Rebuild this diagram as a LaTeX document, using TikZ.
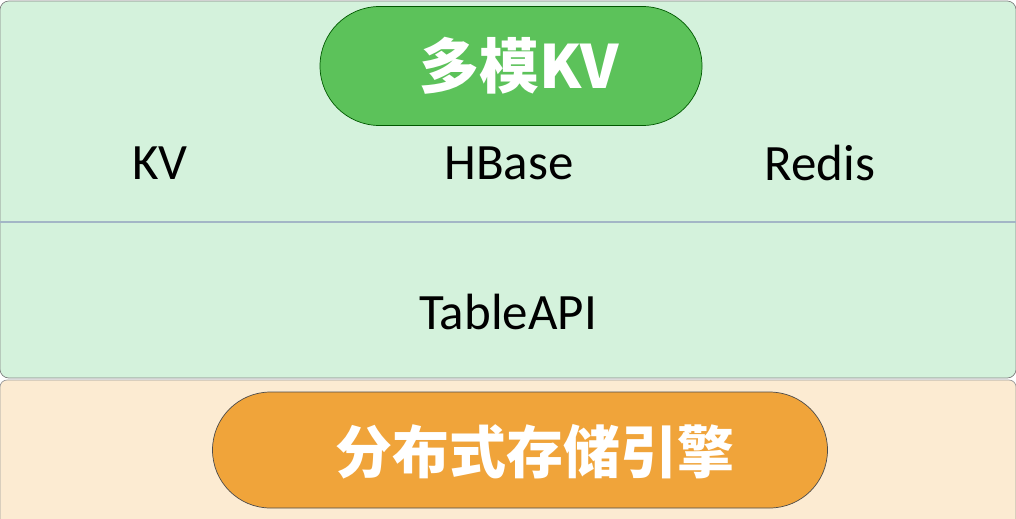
\documentclass[tikz,border=0pt]{standalone}
\usepackage{fontspec}
\setmainfont{Carlito}
\newfontfamily\cjk{Noto Sans CJK SC}
\usetikzlibrary{shapes.misc}
\definecolor{layergreen}{HTML}{D4F2DC}
\definecolor{pillgreen}{HTML}{5CC25A}
\definecolor{layerorange}{HTML}{FCEBD2}
\definecolor{pillorange}{HTML}{F0A43A}
\definecolor{dividerblue}{HTML}{A3B6C6}
\begin{document}
\begin{tikzpicture}[x=0.02cm, y=-0.02cm, inner sep=0mm,
		pillstyle/.style={rounded rectangle, draw, thin},
		titlestyle/.style={text=white, font=\cjk\bfseries\fontsize{#1}{40}\selectfont},
		itemstyle/.style={font=\fontsize{29}{34}\selectfont}]

		\useasboundingbox (0,0) rectangle (1016,518);

		% layers
		\draw[fill=layerorange, draw=black!40, rounded corners=4pt] (0,380) rectangle (1016,540);
		\draw[fill=layergreen, draw=black!50, rounded corners=5pt] (0,1) rectangle (1016,378);
		\draw[draw=dividerblue, thick] (0,222) -- (1016,222);

		% pills
		\node [pillstyle, fill=pillgreen, draw=green!35!black,
			minimum width=382*0.02cm, minimum height=119*0.02cm] (multikv) at (511,66) {};
		\node [titlestyle=34] (multikvtext) at (519,66) {多模KV};
		\node [pillstyle, fill=pillorange, draw=black!70,
			minimum width=615*0.02cm, minimum height=116*0.02cm] (engine) at (520,450) {};
		\node [titlestyle=32.4] (enginetext) at (535,452) {分布式存储引擎};

		% interfaces
		\node [itemstyle] (kv) at (160,163) {KV};
		\node [itemstyle] (hbase) at (509,163) {HBase};
		\node [itemstyle] (redis) at (820,163) {Redis};
		\node [itemstyle] (tableapi) at (508,312) {TableAPI};

		\end{tikzpicture}
\end{document}
